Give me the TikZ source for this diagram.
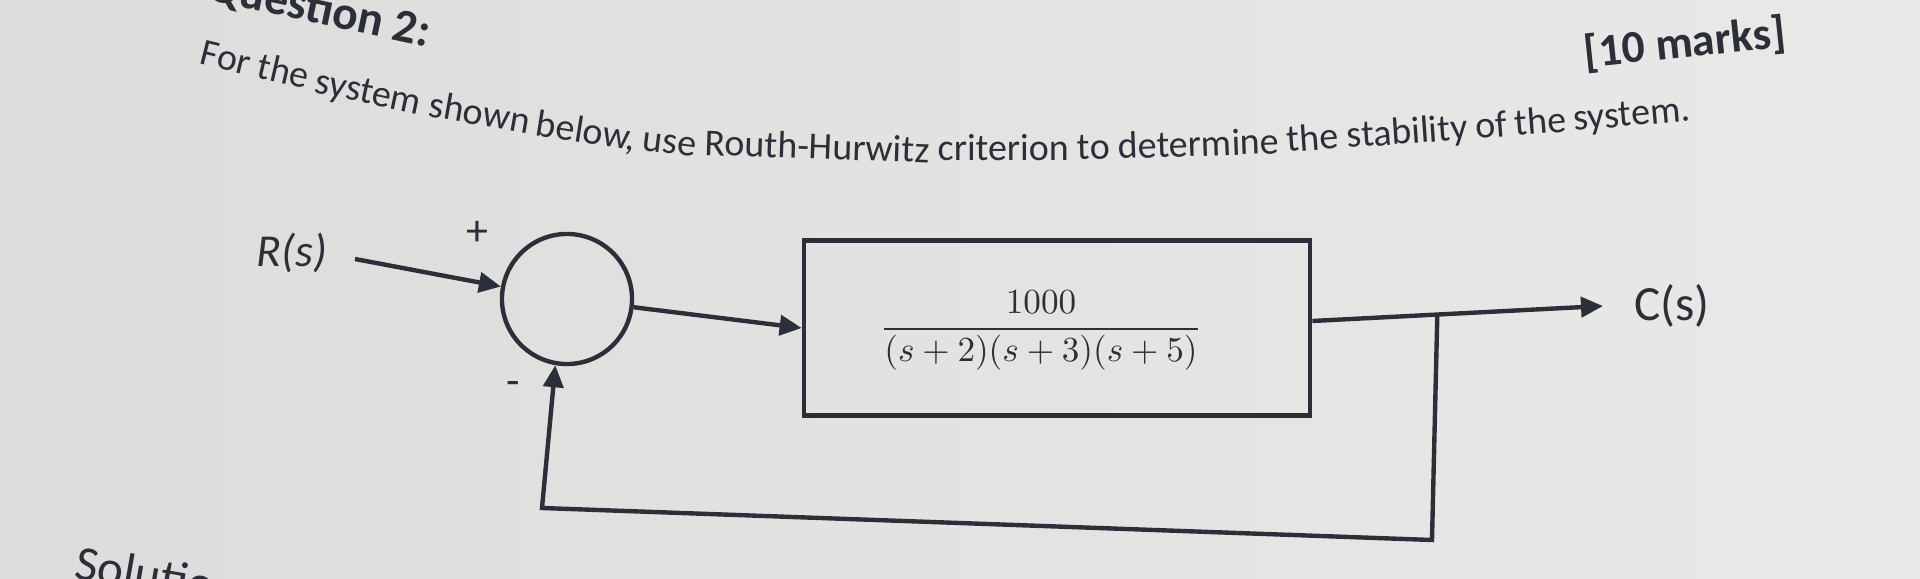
\documentclass[tikz,border=0pt]{standalone}
\usepackage{fontspec}
\usepackage{amsmath}
\setmainfont{Carlito}
\usetikzlibrary{arrows.meta,calc}
\definecolor{ink}{HTML}{2A2F3A}
\definecolor{paperL}{HTML}{DCDCDA}
\definecolor{paperR}{HTML}{E9E9E7}
\tikzset{
  wire/.style={draw=ink, line width=1.25pt},
  arr/.style={wire, -{Triangle[length=0.22cm,width=0.2cm]}},
  sumnode/.style={circle, draw=ink, line width=1.25pt, minimum size=1.3cm, inner sep=0pt},
  blocknode/.style={rectangle, draw=ink, line width=1.25pt, minimum width=5.06cm, minimum height=1.75cm, inner sep=0pt},
  lbl/.style={text=ink, inner sep=0pt},
  qword/.style={lbl, font=\fontsize{10.8}{13}\selectfont, anchor=base west},
}
\begin{document}
\begin{tikzpicture}[x=0.01cm,y=-0.01cm]
\useasboundingbox (0,0) rectangle (1920,579);
\shade[left color=paperL, right color=paperR] (0,0) rectangle (1920,579);

% header texts
\node[lbl, font=\bfseries\fontsize{13.5}{16}\selectfont, anchor=base east, rotate=-12] (qhead) at (428,47) {Question 2:};
\node[lbl, font=\bfseries\fontsize{13}{15}\selectfont, rotate=6] (marks) at (1685,44) {[10 marks]};

% question sentence, following the bent page
\node[qword, rotate=-14] (w1) at (198,63) {For};
\node[qword, rotate=-13] (w2) at (255,77) {the};
\node[qword, rotate=-12] (w3) at (313,92) {system};
\node[qword, rotate=-10] (w4) at (427,116) {shown};
\node[qword, rotate=-9] (w5) at (534,135) {below,};
\node[qword, rotate=-7] (w6) at (641,150) {use};
\node[qword, rotate=-2] (w7) at (704,155) {Routh-Hurwitz};
\node[qword, rotate=0] (w8) at (937,161) {criterion};
\node[qword, rotate=1.5] (w9) at (1077,160) {to};
\node[qword, rotate=2] (w10) at (1118,159) {determine};
\node[qword, rotate=4] (w11) at (1287,152) {the};
\node[qword, rotate=4] (w12) at (1347,148) {stability};
\node[qword, rotate=4.5] (w13) at (1476,139) {of};
\node[qword, rotate=4.5] (w14) at (1515,136) {the};
\node[qword, rotate=5] (w15) at (1574,131) {system.};

% diagram
\node[sumnode] (sum) at (567,299) {};
\node[blocknode] (blk) at (1057,328) {};
\node[lbl, font=\fontsize{10}{12}\selectfont] (gain) at (1041,331) {$\dfrac{1000}{(s+2)(s+3)(s+5)}$};

\coordinate (rin) at (355,259);
\coordinate (bout) at ($(blk.east)+(0,-7)$);
\coordinate (cout) at (1603,306);
\coordinate (tap) at ($(bout)!0.43!(cout)$);
\coordinate (fbr) at (1432,540);
\coordinate (fbl) at (542,508);

\draw[arr] (rin) -- (sum);
\draw[arr] (sum) -- (blk.west);
\draw[arr] (bout) -- (cout);
\draw[arr, line join=miter] (tap) -- (fbr) -- (fbl) -- (sum.260);

\node[lbl, font=\fontsize{13}{15}\selectfont\itshape] (rlab) at (292,253) {R(s)};
\node[lbl, font=\fontsize{14}{16}\selectfont] (clab) at (1672,306) {C(s)};
\node[lbl, font=\fontsize{12.5}{14}\selectfont] (plus) at (477,233) {+};
\node[lbl, font=\fontsize{12.5}{14}\selectfont] (minus) at (513,388) {-};

\node[lbl, font=\fontsize{14}{16}\selectfont, anchor=base west, rotate=-10] (sol) at (73,578) {Solution};
\end{tikzpicture}
\end{document}
